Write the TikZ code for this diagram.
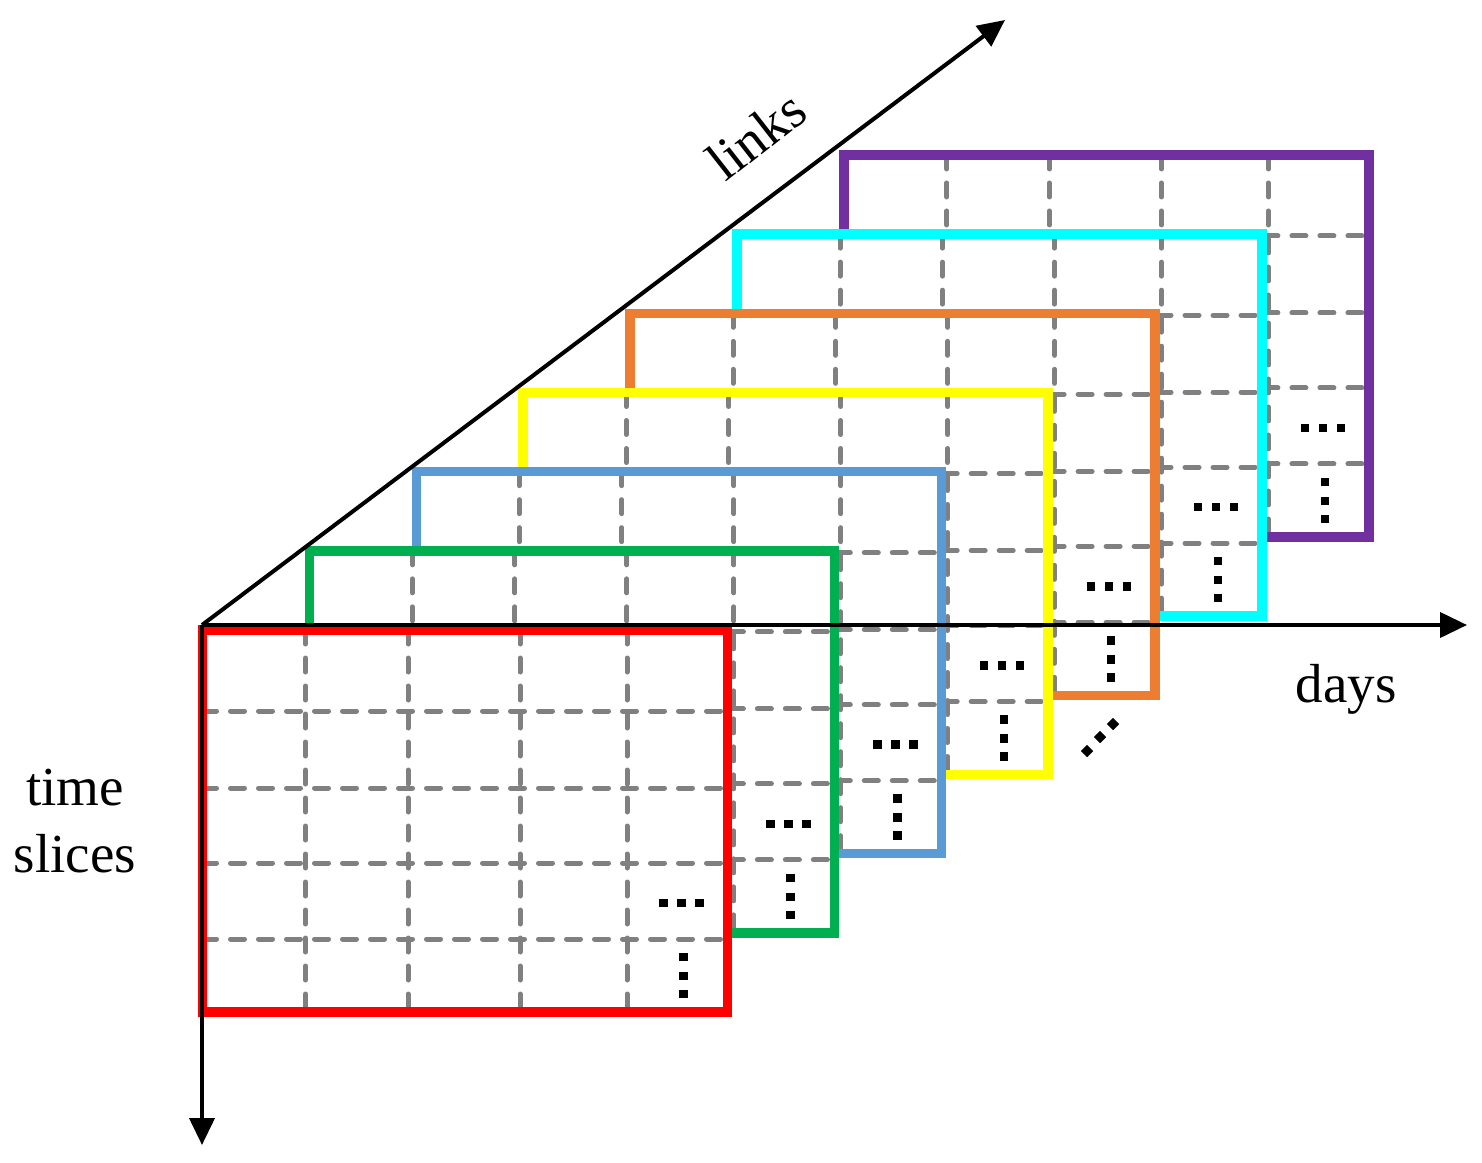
\documentclass[tikz,border=0pt]{standalone}
\usepackage{fontspec}
\setmainfont{Liberation Serif}
\usetikzlibrary{arrows.meta}
\definecolor{slicered}{RGB}{255,0,0}
\definecolor{slicegreen}{RGB}{0,176,80}
\definecolor{sliceblue}{RGB}{91,155,213}
\definecolor{sliceyellow}{RGB}{255,255,0}
\definecolor{sliceorange}{RGB}{237,125,49}
\definecolor{slicecyan}{RGB}{0,255,255}
\definecolor{slicepurple}{RGB}{112,48,160}
\tikzset{
    frame/.style={line width=4.75pt, line join=miter}, % coloured border of one slice
    grid/.style={gray, line width=2.5pt, line cap=round, dash pattern=on 7pt off 7pt}, % dashed cells
    axis/.style={line width=2pt, -{Triangle[length=13.5pt, width=12.5pt]}}, % the three axes
    label/.style={font=\fontsize{27.5}{33.5}\selectfont}, % axis texts
}

\begin{document}
\begin{tikzpicture}[x=0.5pt, y=-0.5pt]
    \useasboundingbox (0,0) rectangle (1482,1162);
    % slices, back to front
    \foreach \col [count=\k] in {slicepurple,slicecyan,sliceorange,sliceyellow,sliceblue,slicegreen,slicered}{
        \pgfmathsetmacro{\dx}{202.5+106.9*(7-\k)}
        \pgfmathsetmacro{\dy}{630-79.17*(7-\k)}
        \begin{scope}[shift={(\dx,\dy)}]
            \fill[white] (0,0) rectangle (525,382);
            \foreach \gx in {103,205.5,317.5,424.5} \draw[grid] (\gx,0) -- (\gx,382);
            \foreach \gy in {81,158,233,309} \draw[grid] (0,\gy) -- (525,\gy);
            \draw[frame, \col] (0,0) rectangle (525,382);
            \foreach \px in {461,479,497} \fill (\px-4.25,268.75) rectangle (\px+4.25,277.25);
            \foreach \py in {327,346,364} \fill (476.75,\py-4.25) rectangle (485.25,\py+4.25);
        \end{scope}
    }
    % more slices behind
    \foreach \px/\py in {1087/751,1100/737,1113/724}
        \fill[rotate around={45:(\px,\py)}] (\px-4.4,\py-4.4) rectangle (\px+4.4,\py+4.4);
    % axes
    \coordinate (o) at (202,625);
    \coordinate (d) at (1467,625);
    \coordinate (t) at (202,1145);
    \coordinate (l) at (1005,20);
    \draw[axis] (o) -- (d);
    \draw[axis] (o) -- (t);
    \draw[axis] (o) -- (l);
    \node[label, anchor=base] (days) at (1346,702) {days};
    \node[label, align=center] (slices) at (75,821) {time\\slices};
    \node[label, anchor=base, rotate=38] (links) at (768,150) {links};
\end{tikzpicture}
\end{document}
